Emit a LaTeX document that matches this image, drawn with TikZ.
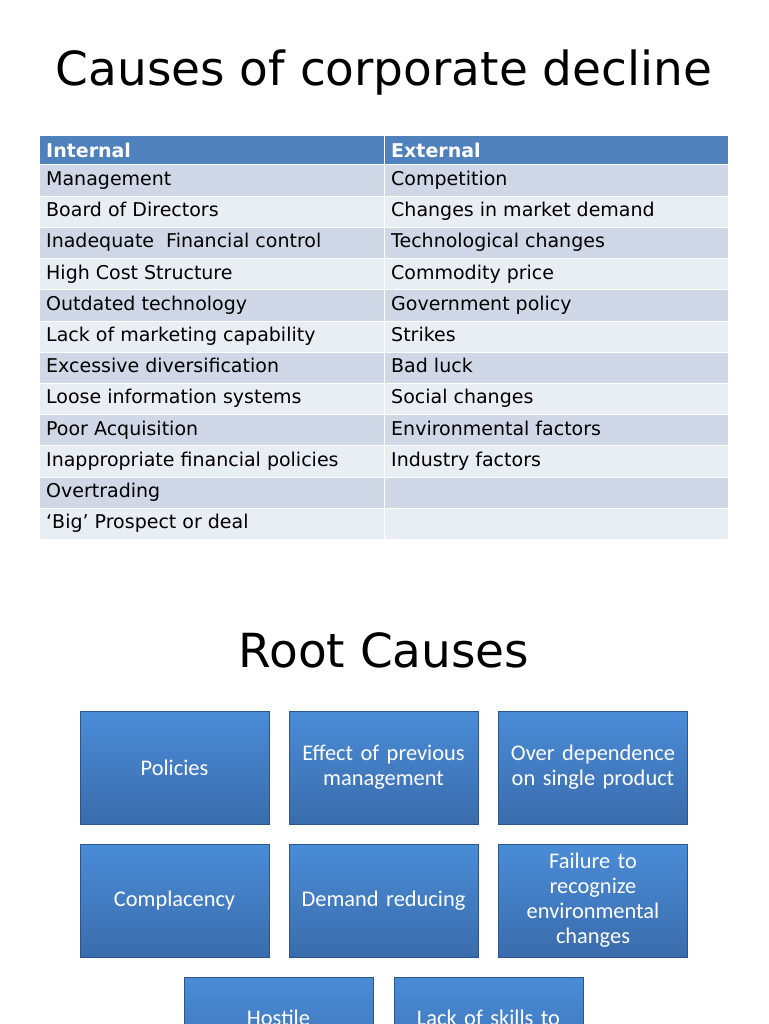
\documentclass[tikz,border=0pt]{standalone}
\usepackage{fontspec}
\setmainfont{DejaVu Sans}
\newfontfamily\boxfont{Carlito}
\begin{document}
\begin{tikzpicture}[x=1pt,y=-1pt,
 hdr/.style={fill={rgb,255:red,79;green,129;blue,189},draw=white,line width=1pt},
 rowa/.style={fill={rgb,255:red,208;green,216;blue,232},draw=white,line width=1pt},
 rowb/.style={fill={rgb,255:red,233;green,237;blue,244},draw=white,line width=1pt},
 cell/.style={anchor=west,font=\fontsize{19}{22}\selectfont,inner sep=0pt},
 bluebox/.style={draw={rgb,255:red,45;green,85;blue,140},line width=0.8pt,
   top color={rgb,255:red,74;green,140;blue,215},bottom color={rgb,255:red,58;green,108;blue,172},
   minimum width=189pt,minimum height=113pt,text=white,align=center,
   font=\boxfont\fontsize{22.4}{25}\selectfont,text width=182pt}]
\useasboundingbox (0,0) rectangle (768,1024);
\clip (0,0) rectangle (768,1024);
\fill[white] (0,0) rectangle (768,1024);
\node (t1) at (384,73) {\fontsize{47}{52}\selectfont Causes of corporate decline};
\node (t2) at (384,650) {\fontsize{47}{52}\selectfont Root Causes};
\draw[hdr] (39,136) rectangle (384,165);
\draw[hdr] (384,136) rectangle (728,165);
\node[cell,text=white,font=\bfseries\fontsize{19}{22}\selectfont] (h1) at (46,150.5) {Internal};
\node[cell,text=white,font=\bfseries\fontsize{19}{22}\selectfont] (h2) at (391,150.5) {External};
\foreach [count=\i] \a/\b in {Management/Competition,Board of Directors/Changes in market demand,Inadequate\ \ Financial control/Technological changes,High Cost Structure/Commodity price,Outdated technology/Government policy,Lack of marketing capability/Strikes,Excessive diversification/Bad luck,Loose information systems/Social changes,Poor Acquisition/Environmental factors,Inappropriate financial policies/Industry factors,Overtrading/,‘Big’ Prospect or deal/}{
  \pgfmathsetmacro\yt{165+(\i-1)*31.2}
  \pgfmathsetmacro\yb{\yt+31.2}
  \pgfmathtruncatemacro\odd{mod(\i,2)}
  \ifnum\odd=1 \tikzset{rs/.style={rowa}}\else\tikzset{rs/.style={rowb}}\fi
  \draw[rs] (39,\yt) rectangle (384,\yb);
  \draw[rs] (384,\yt) rectangle (728,\yb);
  \node[cell] (a\i) at (46,\yt+16) {\strut\a};
  \node[cell] (b\i) at (391,\yt+16) {\strut\b};
}
\node[bluebox] (p1) at (174.5,767.5) {Policies};
\node[bluebox] (p2) at (383.5,767.5) {Effect of previous\\management};
\node[bluebox] (p3) at (593,767.5) {Over dependence\\on single product};
\node[bluebox] (p4) at (174.5,900.5) {Complacency};
\node[bluebox] (p5) at (383.5,900.5) {Demand reducing};
\node[bluebox] (p6) at (593,900.5) {Failure to\\recognize\\environmental\\changes};
\node[bluebox] (p7) at (278.5,1033.5) {Hostile\\\strut};
\node[bluebox] (p8) at (488.5,1033.5) {Lack of skills to\\\strut};
\end{tikzpicture}
\end{document}
